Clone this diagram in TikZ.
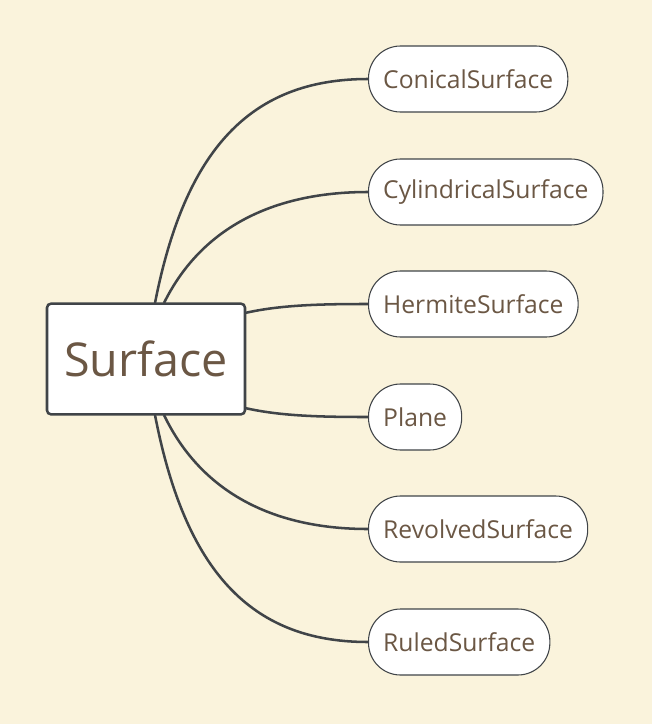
\documentclass[tikz,border=0pt]{standalone}
\usepackage{fontspec}
\setmainfont{Open Sans}
\definecolor{bg}{HTML}{FAF3DC}
\definecolor{txt}{HTML}{6B5744}
\definecolor{ln}{HTML}{404448}
\begin{document}
\begin{tikzpicture}[x=0.75pt,y=-0.75pt,
  leaf/.style={draw=ln,line width=0.8pt,fill=white,rounded corners=24pt,minimum height=49.5pt,
    anchor=west,inner xsep=11pt,text=txt,font=\fontsize{18.5pt}{21pt}\selectfont},
  conn/.style={draw=ln,line width=1.9pt}]
\fill[bg] (0,0) rectangle (652,724);
\node[draw=ln,line width=1.9pt,fill=white,rounded corners=3pt,minimum width=148.5pt,minimum height=83pt,
  text=txt,font=\fontsize{35pt}{40pt}\selectfont] (root) at (146,359) {Surface};
\node[leaf] (a) at (368,79) {ConicalSurface};
\node[leaf] (b) at (368,192) {CylindricalSurface};
\node[leaf] (c) at (368,304) {HermiteSurface};
\node[leaf] (d) at (368,417) {Plane};
\node[leaf] (e) at (368,529) {RevolvedSurface};
\node[leaf] (f) at (368,642) {RuledSurface};
\coordinate (t1) at (155,303);
\coordinate (t2) at (164,303);
\coordinate (r1) at (245,313);
\coordinate (r2) at (245,408);
\coordinate (b1) at (164,415);
\coordinate (b2) at (155,415);
\draw[conn] (t1) .. controls (185,150) and (250,79) .. (a.west);
\draw[conn] (t2) .. controls (200,230) and (270,192) .. (b.west);
\draw[conn] (r1) .. controls (280,305) and (320,304) .. (c.west);
\draw[conn] (r2) .. controls (280,416) and (320,417) .. (d.west);
\draw[conn] (b1) .. controls (200,490) and (270,529) .. (e.west);
\draw[conn] (b2) .. controls (185,570) and (250,642) .. (f.west);
\end{tikzpicture}
\end{document}
